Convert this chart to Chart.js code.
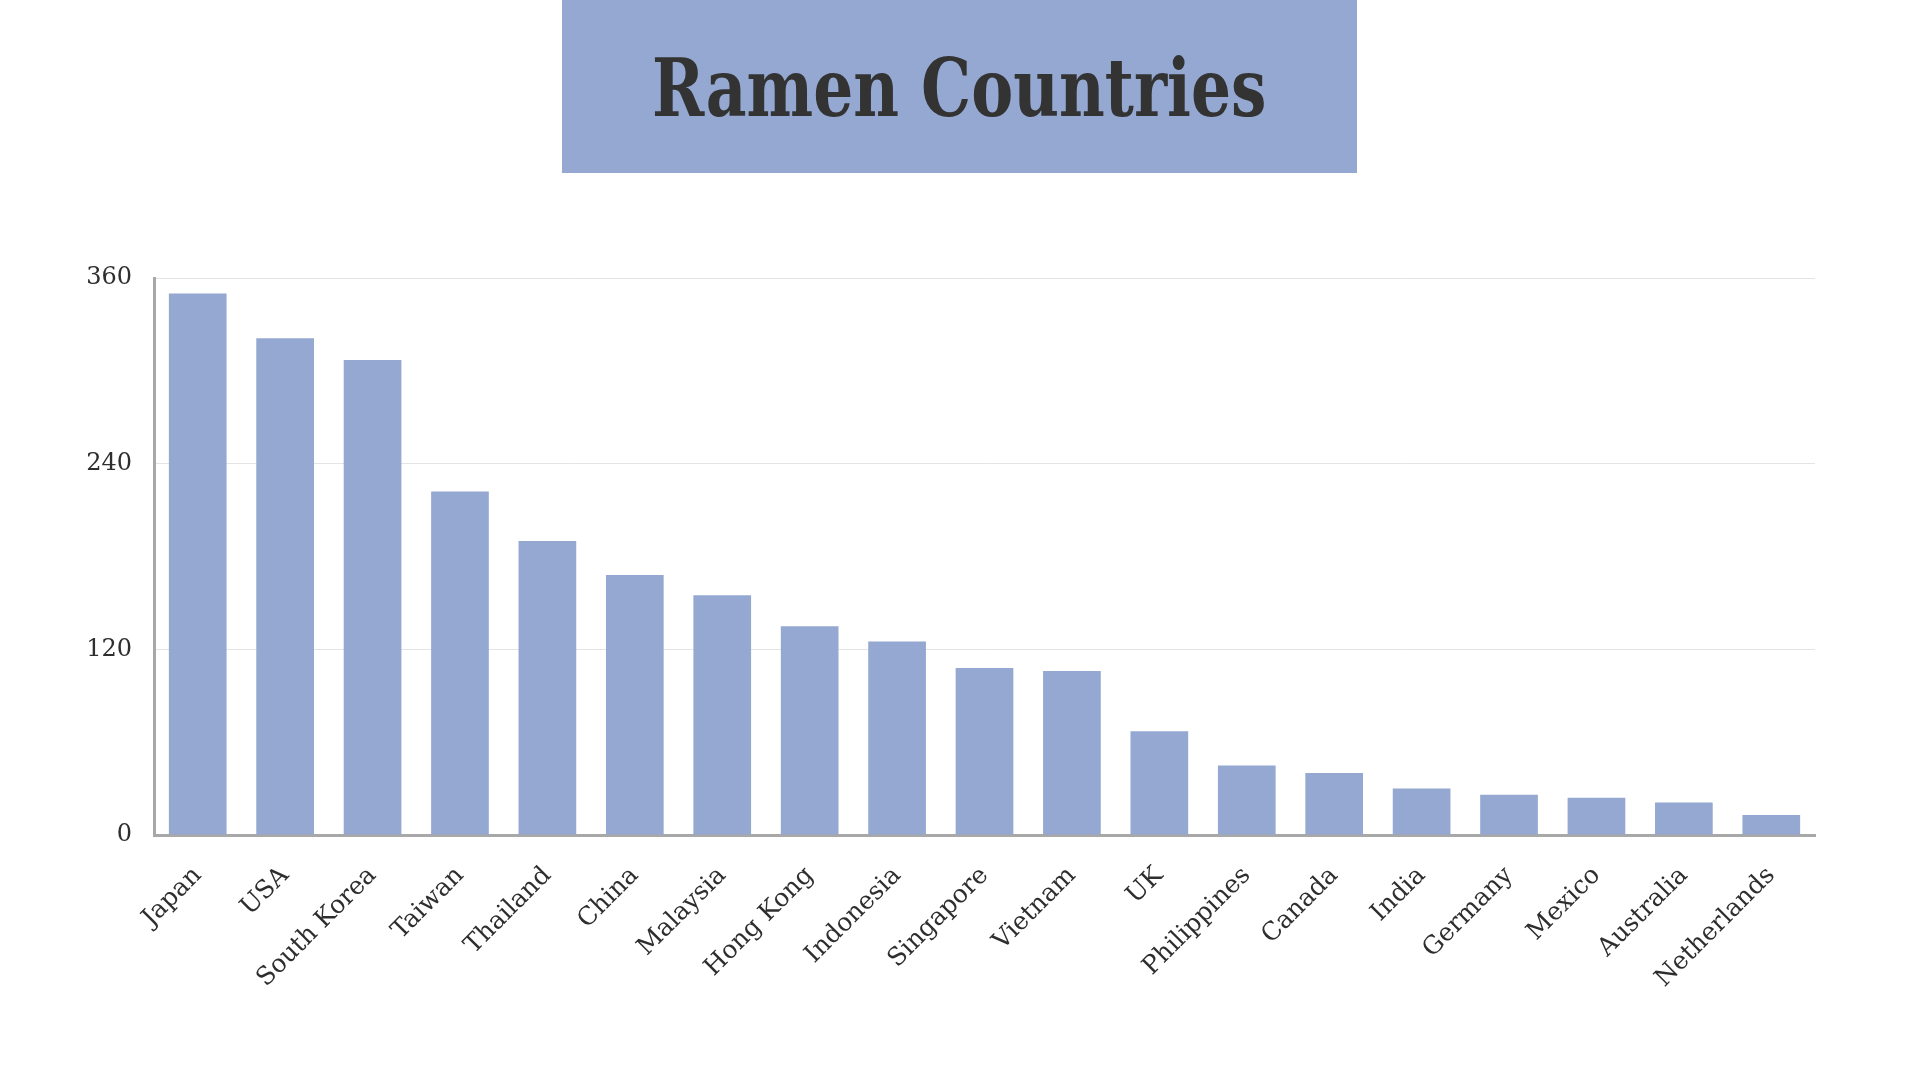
<!DOCTYPE html>
<html>
<head>
<meta charset="utf-8">
<script src="https://cdn.jsdelivr.net/npm/chart.js@4/dist/chart.umd.min.js"></script>
<style>
    html, body {
        margin: 0;
        padding: 0;
        background: #fff;
    }

    #wrap {
        position: relative;
        width: 1920px;
        height: 1080px;
    }

    #titleBox {
        position: absolute;
        left: 562px;
        top: 0;
        width: 795px;
        height: 173px;
        background: #94a8d1;
        text-align: center;
    }

    #titleText {
        display: inline-block;
        font-family: "DejaVu Serif", serif;
        font-weight: bold;
        font-size: 80px;
        line-height: 80px;
        margin-top: 48px;
        color: #333;
        white-space: nowrap;
        transform-origin: center center;
    }

    #ramenChart {
        position: absolute;
        left: 0;
        top: 0;
    }
</style>
</head>
<body>
<div id="wrap">
    <canvas id="ramenChart" width="1920" height="1080"></canvas>
    <div id="titleBox"><span id="titleText">Ramen Countries</span></div>
</div>

<script>
const TITLE = "Ramen Countries"

const COUNTRIES = [
    "Japan", "USA", "South Korea", "Taiwan", "Thailand",
    "China", "Malaysia", "Hong Kong", "Indonesia", "Singapore",
    "Vietnam", "UK", "Philippines", "Canada", "India",
    "Germany", "Mexico", "Australia", "Netherlands"
]

const RAMEN_COUNT = [
    350, 321, 307, 222, 190,
    168, 155, 135, 125, 108,
    106, 67, 45, 40, 30,
    26, 24, 21, 13
]

const Y_TICKS = [0, 120, 240, 360]

// title text: squeeze to the slab width of the original
const titleEl = document.getElementById("titleText")
titleEl.textContent = TITLE
const w = titleEl.offsetWidth
titleEl.style.transform = "scaleX(" + (615 / w) + ")"

const FONT = "'DejaVu Serif', serif"

new Chart(
    document.getElementById("ramenChart"),
    {
        type: "bar",

        data: {
            labels: COUNTRIES,

            datasets: [{
                label: "Ramen",
                data: RAMEN_COUNT,
                backgroundColor: "#94a8d1",
                borderWidth: 0,
                barPercentage: 0.66,
                categoryPercentage: 1
            }]
        },

        options: {
            responsive: false,
            animation: false,
            layout: {
                padding: { top: 278, right: 105, bottom: 0, left: 0 }
            },
            plugins: {
                legend: { display: false },
                tooltip: { enabled: false }
            },
            scales: {
                x: {
                    grid: { display: false },
                    border: { color: "#a8a8a8", width: 3 },
                    ticks: {
                        color: "#2e2e2e",
                        font: { family: FONT, size: 25 },
                        minRotation: 45,
                        maxRotation: 45,
                        padding: 18
                    },
                    afterFit(scale) {
                        scale.height = 245
                    }
                },
                y: {
                    min: 0,
                    max: Y_TICKS[Y_TICKS.length - 1],
                    afterBuildTicks(scale) {
                        scale.ticks = Y_TICKS.map(v => ({ value: v }))
                    },
                    grid: {
                        color: "#e4e4e4",
                        lineWidth: 1,
                        drawTicks: false
                    },
                    border: { color: "#a8a8a8", width: 3 },
                    ticks: {
                        color: "#2e2e2e",
                        font: { family: FONT, size: 24 },
                        padding: 22
                    },
                    afterFit(scale) {
                        scale.width = 154
                    }
                }
            }
        }
    }
)
</script>
</body>
</html>
